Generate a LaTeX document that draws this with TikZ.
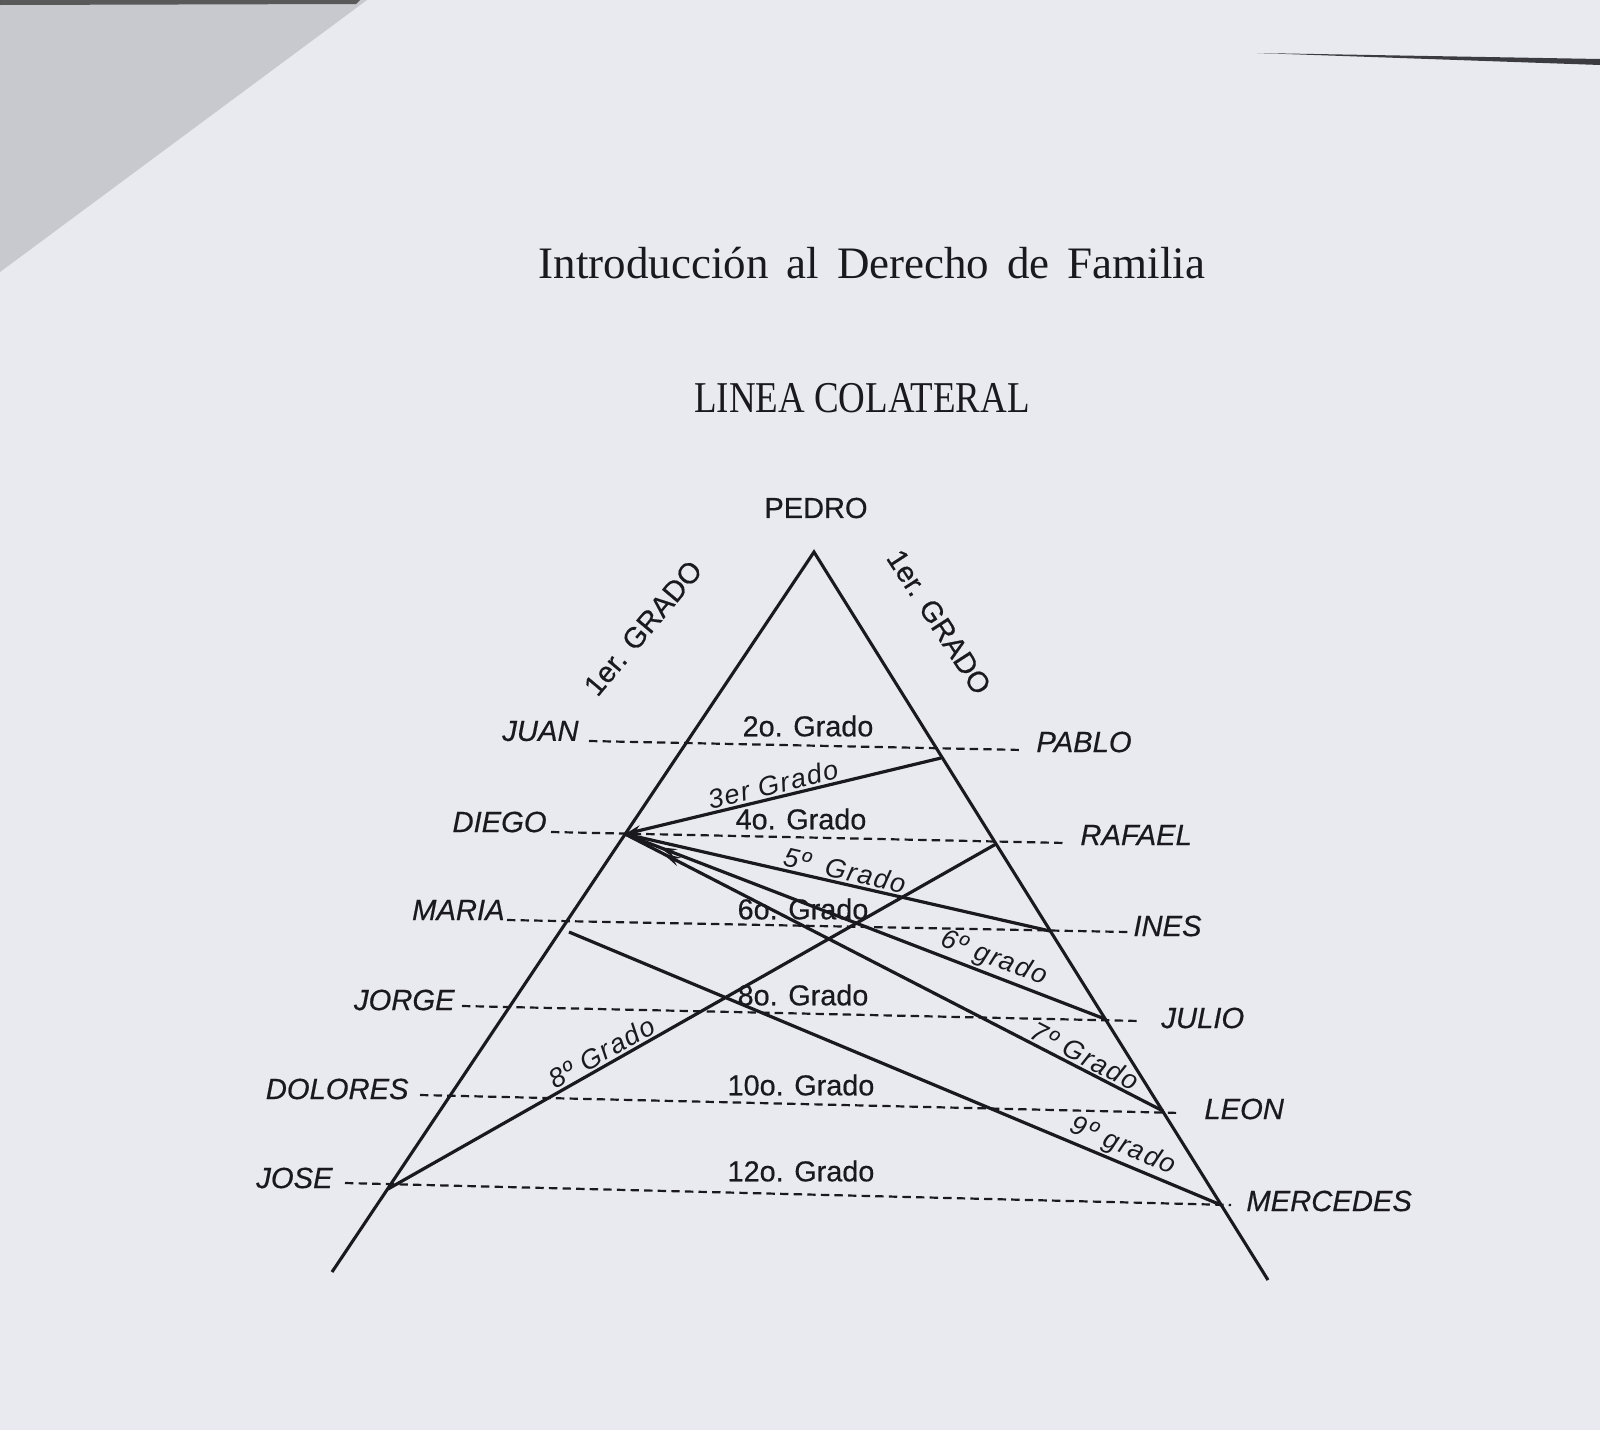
\documentclass[tikz,border=0pt]{standalone}
\usepackage{fontspec}
\usepackage{graphicx}
\usetikzlibrary{arrows.meta,decorations.markings}
\newfontfamily\labfont{Liberation Sans}[FakeBold=0.5]
\newfontfamily\handfont{Liberation Sans}[LetterSpace=6]
\newfontfamily\titfont{Liberation Serif}
\definecolor{paper}{RGB}{233,234,240}
\definecolor{fold}{RGB}{200,200,207}
\definecolor{ink}{RGB}{26,26,30}
\begin{document}
\begin{tikzpicture}[x=0.5pt,y=-0.5pt,
  every node/.style={inner sep=0pt, text=ink},
  person/.style={font=\labfont\itshape\fontsize{14.6}{16}\selectfont},
  head/.style={font=\labfont\fontsize{14.5}{16}\selectfont},
  grado/.style={font=\labfont\fontsize{14.4}{16}\selectfont},
  side/.style={draw=ink, line width=1.55pt},
  dashline/.style={draw=ink, line width=1.1pt, dash pattern=on 4.2pt off 2.6pt},
  handline/.style={draw=ink, line width=1.6pt},
  hand/.style={font=\handfont\itshape\fontsize{13.5}{16}\selectfont, sloped, above=1pt},
  backtip/.style={postaction={decorate}, decoration={markings,
     mark=at position #1 with {\arrowreversed{Stealth[length=9pt,width=4.5pt]}}}},
]
\useasboundingbox (0,0) rectangle (1600,1430);
% paper, folded corner and rule
\fill[paper] (0,0) rectangle (1600,1430);
\fill[fold] (0,0) -- (367,0) -- (0,272) -- cycle;
\fill[black!65] (0,0) -- (360,0) -- (356,4) -- (0,5) -- cycle;
\fill[ink!85] (1257,53) -- (1600,59) -- (1600,65) -- cycle;

% titles
\node (title) at (872,263) {\titfont\fontsize{22.5}{26}\selectfont Introducción\hspace{0.4em}al\hspace{0.4em}Derecho\hspace{0.4em}de\hspace{0.4em}Familia};
\node (sub) at (862,398) {\scalebox{0.84}[1]{\titfont\fontsize{22}{24}\selectfont LINEA COLATERAL}};

% triangle
\coordinate (P) at (814,552);
\coordinate (LB) at (332,1272);
\coordinate (RB) at (1268,1280);
\node[head] (pedro) at (816,508) {PEDRO};
\draw[side] (LB) -- (P) -- (RB);
\node[head, rotate=50] (g1l) at (643,628) {1er. GRADO};
\node[head, rotate=-57] (g1r) at (939,622) {1er. GRADO};

% points on the sides
\coordinate (D) at (625,834);
\coordinate (J) at (388,1189);
\coordinate (ML) at (569,932);
\coordinate (PB) at (941,758);
\coordinate (R) at (996,844);
\coordinate (I) at (1050,931);
\coordinate (Ju) at (1105,1019);
\coordinate (L) at (1163,1111);
\coordinate (M) at (1221,1205);

% dashed generation lines
\coordinate (juanL) at (589,741);   \coordinate (juanR) at (1023,750);
\coordinate (diegoL) at (551,832);  \coordinate (diegoR) at (1066,843);
\coordinate (mariaL) at (507,920);  \coordinate (mariaR) at (1128,932);
\coordinate (jorgeL) at (462,1006); \coordinate (jorgeR) at (1140,1021);
\coordinate (doloL) at (420,1095);  \coordinate (doloR) at (1181,1113);
\coordinate (joseL) at (345,1183);  \coordinate (joseR) at (1231,1205);
\draw[dashline] (juanL) -- (juanR);
\draw[dashline] (diegoL) -- (diegoR);
\draw[dashline] (mariaL) -- (mariaR);
\draw[dashline] (jorgeL) -- (jorgeR);
\draw[dashline] (doloL) -- (doloR);
\draw[dashline] (joseL) -- (joseR);

% names
\node[person, anchor=east] (juan) at (579,731) {JUAN};
\node[person, anchor=east] (diego) at (547,822) {DIEGO};
\node[person, anchor=east] (maria) at (505,910) {MARIA};
\node[person, anchor=east] (jorge) at (455,1000) {JORGE};
\node[person, anchor=east] (dolores) at (409,1089) {DOLORES};
\node[person, anchor=east] (jose) at (333,1178) {JOSE};
\node[person, anchor=west] (pablo) at (1036,742) {PABLO};
\node[person, anchor=west] (rafael) at (1080,835) {RAFAEL};
\node[person, anchor=west] (ines) at (1133,926) {INES};
\node[person, anchor=west] (julio) at (1161,1018) {JULIO};
\node[person, anchor=west] (leon) at (1204,1109) {LEON};
\node[person, anchor=west] (mercedes) at (1246,1201) {MERCEDES};

% printed degrees
\node[grado] (g2) at (808,726) {2o. Grado};
\node[grado] (g4) at (801,819) {4o. Grado};
\node[grado] (g6) at (803,909) {6o. Grado};
\node[grado] (g8) at (803,995) {8o. Grado};
\node[grado] (g10) at (801,1085) {10o. Grado};
\node[grado] (g12) at (801,1171) {12o. Grado};

% hand-drawn degree lines
\draw[handline, {Stealth[length=8pt,width=5pt]}-] (D) -- node[hand, pos=0.478] (h3) {3er Grado} (PB);
\draw[handline] (D) -- node[hand, pos=0.51, above=0pt] (h5) {5º\hspace{0.6em}Grado} (I);
\draw[handline, backtip=0.07] (D) -- node[hand, pos=0.756] (h6) {6º grado} (Ju);
\draw[handline, backtip=0.07] (D) -- node[hand, pos=0.844] (h7) {7º Grado} (L);
\draw[handline] (J) -- node[hand, pos=0.362] (h8) {8º Grado} (R);
\draw[handline] (ML) -- node[hand, pos=0.84] (h9) {9º grado} (M);
\end{tikzpicture}
\end{document}
